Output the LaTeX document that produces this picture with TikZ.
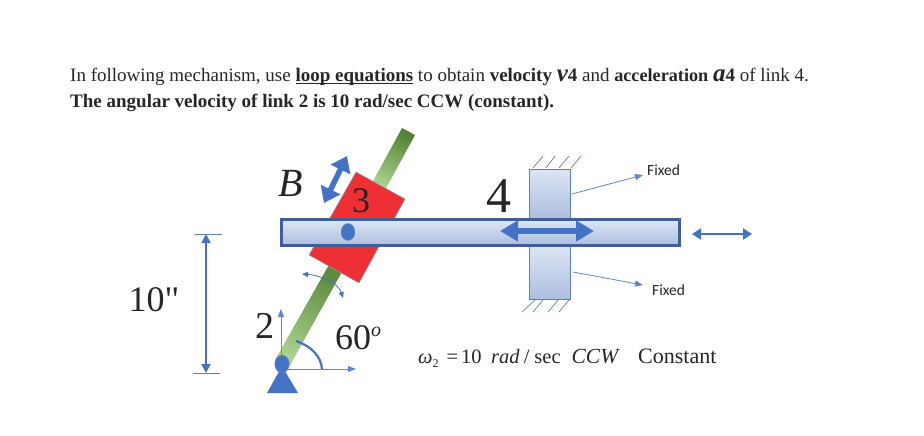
\documentclass[tikz,border=0pt]{standalone}
\usepackage{fontspec}
\setmainfont{Liberation Serif}
\newfontfamily\labelfont{Carlito}
\newfontfamily\numfont{Liberation Serif}
\usepackage{tikz}
\usetikzlibrary{arrows.meta,shapes.geometric}

\definecolor{linkblue}{HTML}{4472C4}
\definecolor{darkblue}{HTML}{3F5E9A}
\definecolor{edgeblue}{HTML}{5F7FB8}
\definecolor{blockred}{HTML}{EE3035}
\definecolor{palegreen}{HTML}{A9D18E}
\definecolor{midgreen}{HTML}{8CBF6C}
\definecolor{darkgreen}{HTML}{548235}
\definecolor{paleblue}{HTML}{DCE6F4}
\definecolor{midblue}{HTML}{ADBFDF}
\definecolor{inkgray}{HTML}{262626}

\tikzset{
  thinarrow/.style={draw=linkblue!85, line width=0.8pt, -{Triangle[length=8pt,width=6pt]}},
  fatarrow/.style={draw=linkblue, line width=6pt, {Triangle[length=18pt,width=20pt]}-{Triangle[length=18pt,width=20pt]}},
  hatch/.style={draw=edgeblue, line width=0.7pt},
  bignum/.style={inner sep=0pt, text=inkgray},
}

\begin{document}
\begin{tikzpicture}[x=1pt,y=-1pt]
\useasboundingbox (0,0) rectangle (924,436);

\node [anchor=base west, inner sep=0pt, text=inkgray, font=\fontsize{19}{20}\selectfont] (title1) at (70,81.5) {In following mechanism, use \textbf{\underline{\smash{loop equations}}} to obtain \textbf{velocity {\itshape\fontsize{25}{20}\selectfont v}{\fontsize{19}{20}\selectfont 4}} and \textbf{{\fontsize{18.2}{20}\selectfont acceleration} {\itshape\fontsize{25}{20}\selectfont a}{\fontsize{19}{20}\selectfont 4}} of link 4.};
\node [anchor=base west, inner sep=0pt, text=inkgray, font=\fontsize{19}{20}\selectfont\bfseries] (title2) at (70,107) {The angular velocity of link 2 is 10 rad/sec CCW (constant).};

\draw [draw=none, shade, bottom color=palegreen, top color=darkgreen, shading angle=-28.5]
  (402,128) -- (415,135) -- (385,190) -- (372,183) -- cycle;
\draw [draw=none, shade, bottom color=palegreen, top color=darkgreen!85!midgreen, shading angle=-28.5]
  (330,263) -- (343,270) -- (289,367) -- (275,360) -- cycle;

\coordinate (redA) at (356,172);
\coordinate (redB) at (405,199);
\coordinate (redC) at (359,283);
\coordinate (redD) at (309,255);
\draw [draw=darkblue!60, fill=blockred, line width=0.5pt] (redA) -- (redB) -- (redC) -- (redD) -- cycle;

\node [bignum, font=\fontsize{36}{36}\selectfont] (three) at (361,201) {3};
\node [bignum, font=\fontsize{40}{40}\selectfont\itshape] (labelB) at (291,183) {B};

\coordinate (slidetop) at (347,156);
\coordinate (slidebot) at (324,203);
\draw [draw=linkblue, line width=5.5pt, {Triangle[length=15pt,width=21pt]}-{Triangle[length=15pt,width=21pt]}] (slidebot) -- (slidetop);

\draw [draw=edgeblue, line width=0.9pt, top color=paleblue, bottom color=midblue] (529,169) rectangle (570,218);
\draw [draw=edgeblue, line width=0.9pt, top color=paleblue, bottom color=midblue] (529,246) rectangle (570,299);

\draw [hatch] (533,168) -- (543,156);
\draw [hatch] (546,168) -- (555,156);
\draw [hatch] (559,168) -- (569,156);
\draw [hatch] (571,168) -- (581,156);
\draw [hatch] (535,300) -- (522,312);
\draw [hatch] (543,300) -- (533,312);
\draw [hatch] (558,300) -- (548,312);
\draw [hatch] (569,300) -- (559,312);

\draw [draw=darkblue, line width=3pt, top color=paleblue, bottom color=midblue] (281,219.5) rectangle (679,245);

\node [ellipse, fill=linkblue, draw=darkblue!70, line width=0.4pt, minimum width=14pt, minimum height=17pt, inner sep=0pt] (pinB) at (348,232) {};

\coordinate (barleft) at (500,231);
\coordinate (barright) at (594,231);
\draw [fatarrow] (barleft) -- (barright);

\coordinate (motionleft) at (692,234);
\coordinate (motionright) at (752,234);
\draw [draw=linkblue, line width=2pt, {Triangle[length=9pt,width=11pt]}-{Triangle[length=9pt,width=11pt]}] (motionleft) -- (motionright);

\node [bignum, font=\fontsize{50}{50}\selectfont] (four) at (499,196) {4};

\node [anchor=west, inner sep=0pt, text=inkgray, font=\labelfont\fontsize{15.5}{16}\selectfont] (fixedtop) at (647,170) {Fixed};
\node [anchor=west, inner sep=0pt, text=inkgray, font=\labelfont\fontsize{15.5}{16}\selectfont] (fixedbot) at (652,290) {Fixed};
\coordinate (blocktop) at (572,194);
\coordinate (blockbot) at (573,272);
\coordinate (fixedtip) at (643,175);
\coordinate (fixedend) at (643,285);
\draw [thinarrow] (blocktop) -- (fixedtip);
\draw [thinarrow] (blockbot) -- (fixedend);

\coordinate (dimtop) at (206,234);
\coordinate (dimbot) at (206,373);
\draw [draw=linkblue, line width=2pt, {Triangle[length=9pt,width=9pt]}-{Triangle[length=9pt,width=9pt]}] (dimtop) -- (dimbot);
\draw [draw=edgeblue, line width=0.9pt] (195,234) -- (222,234);
\draw [draw=edgeblue, line width=0.9pt] (193,373) -- (220,373);
\node [bignum, font=\numfont\fontsize{36}{36}\selectfont] (ten) at (154,300) {10"};

\coordinate (pivot) at (282,369);
\draw [thinarrow] (281,358) -- (281,309);
\draw [thinarrow] (288,369) -- (356,369);
\draw [draw=linkblue, line width=2.2pt] (296,341) .. controls (311,346) and (321,356) .. (322,369);
\draw [draw=linkblue, line width=0.8pt, {Triangle[length=6pt,width=5pt]}-{Triangle[length=6pt,width=5pt]}] (302,274) .. controls (318,275) and (338,282) .. (343,298);

\draw [draw=none, fill=linkblue] (267,393) -- (281,368) -- (283,368) -- (298,393) -- cycle;
\node [ellipse, fill=linkblue, draw=darkblue!70, line width=0.4pt, minimum width=14.5pt, minimum height=18pt, inner sep=0pt] (pivot2) at (282,364) {};

\node [bignum, font=\fontsize{38}{38}\selectfont] (two) at (265,326) {2};
\node [bignum, font=\fontsize{36}{36}\selectfont] (angle) at (358,338) {60\raisebox{13pt}{\fontsize{20}{20}\selectfont\itshape o}};

\node [anchor=base west, inner sep=0pt, text=inkgray, font=\fontsize{20.5}{20}\selectfont] (omega) at (418,363) {\textit{ω}\raisebox{-4pt}{\fontsize{12}{12}\selectfont 2}\hspace{8pt}=\hspace{3pt}10\hspace{9.5pt}\textit{rad}\hspace{4pt}/\hspace{5pt}sec\hspace{11pt}{\fontsize{21.5}{20}\selectfont\textit{CCW}}};
\node [anchor=base west, inner sep=0pt, text=inkgray, font=\fontsize{22}{21}\selectfont] (constant) at (638,363) {Constant};

\end{tikzpicture}
\end{document}
